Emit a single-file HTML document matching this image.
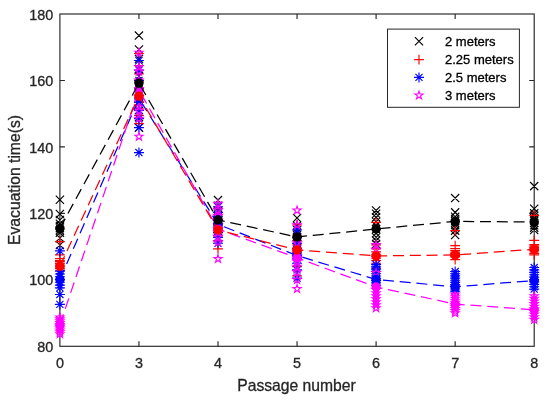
<!DOCTYPE html>
<html><head><meta charset="utf-8"><title>Evacuation time vs passage number</title>
<style>html,body{margin:0;padding:0;background:#fff}svg{display:block}</style></head>
<body>
<svg width="550" height="400" viewBox="0 0 550 400">

<rect width="550" height="400" fill="#fff"/>
<g stroke="#262626" stroke-width="1.15" fill="none">
<rect x="59.9" y="14.0" width="474.30000000000007" height="332.3"/>
<path d="M138.95 346.3v-5.0M138.95 14.0v5.0M218 346.3v-5.0M218 14.0v5.0M297.05 346.3v-5.0M297.05 14.0v5.0M376.1 346.3v-5.0M376.1 14.0v5.0M455.15 346.3v-5.0M455.15 14.0v5.0M59.9 279.84h5.0M534.2 279.84h-5.0M59.9 213.38h5.0M534.2 213.38h-5.0M59.9 146.92h5.0M534.2 146.92h-5.0M59.9 80.46h5.0M534.2 80.46h-5.0"/>
</g>
<g font-family="Liberation Sans, Arial, Helvetica, sans-serif" font-size="14.4" fill="#262626" stroke="#262626" stroke-width="0.3">
<g text-anchor="middle">
<text x="59.9" y="367.5">0</text>
<text x="138.95" y="367.5">3</text>
<text x="218" y="367.5">4</text>
<text x="297.05" y="367.5">5</text>
<text x="376.1" y="367.5">6</text>
<text x="455.15" y="367.5">7</text>
<text x="534.2" y="367.5">8</text>
</g><g text-anchor="end">
<text x="53.2" y="351.9">80</text>
<text x="53.2" y="285.44">100</text>
<text x="53.2" y="218.98">120</text>
<text x="53.2" y="152.52">140</text>
<text x="53.2" y="86.06">160</text>
<text x="53.2" y="19.6">180</text>
</g></g>
<g font-family="Liberation Sans, Arial, Helvetica, sans-serif" font-size="15.7" fill="#262626" stroke="#262626" stroke-width="0.3" text-anchor="middle">
<text x="296.5" y="391">Passage number</text>
<text transform="translate(20.3,180) rotate(-90)">Evacuation time(s)</text>
</g>
<path d="M55.8 195.66l8.2 8.2m-8.2 0l8.2 -8.2M55.8 209.94l8.2 8.2m-8.2 0l8.2 -8.2M55.8 215.93l8.2 8.2m-8.2 0l8.2 -8.2M55.8 233.87l8.2 8.2m-8.2 0l8.2 -8.2M55.8 240.85l8.2 8.2m-8.2 0l8.2 -8.2M55.8 219.58l8.2 8.2m-8.2 0l8.2 -8.2M55.8 221.82l8.2 8.2m-8.2 0l8.2 -8.2M55.8 224.07l8.2 8.2m-8.2 0l8.2 -8.2M55.8 226.31l8.2 8.2m-8.2 0l8.2 -8.2M55.8 228.55l8.2 8.2m-8.2 0l8.2 -8.2M134.85 31.5l8.2 8.2m-8.2 0l8.2 -8.2M134.85 45.46l8.2 8.2m-8.2 0l8.2 -8.2M134.85 54.76l8.2 8.2m-8.2 0l8.2 -8.2M134.85 64.73l8.2 8.2m-8.2 0l8.2 -8.2M134.85 72.04l8.2 8.2m-8.2 0l8.2 -8.2M134.85 79.68l8.2 8.2m-8.2 0l8.2 -8.2M134.85 87.99l8.2 8.2m-8.2 0l8.2 -8.2M134.85 99.62l8.2 8.2m-8.2 0l8.2 -8.2M134.85 112.91l8.2 8.2m-8.2 0l8.2 -8.2M134.85 123.55l8.2 8.2m-8.2 0l8.2 -8.2M213.9 195.99l8.2 8.2m-8.2 0l8.2 -8.2M213.9 201.64l8.2 8.2m-8.2 0l8.2 -8.2M213.9 206.62l8.2 8.2m-8.2 0l8.2 -8.2M213.9 210.61l8.2 8.2m-8.2 0l8.2 -8.2M213.9 213.93l8.2 8.2m-8.2 0l8.2 -8.2M213.9 216.59l8.2 8.2m-8.2 0l8.2 -8.2M213.9 219.25l8.2 8.2m-8.2 0l8.2 -8.2M213.9 222.57l8.2 8.2m-8.2 0l8.2 -8.2M213.9 227.56l8.2 8.2m-8.2 0l8.2 -8.2M213.9 234.2l8.2 8.2m-8.2 0l8.2 -8.2M292.95 213.93l8.2 8.2m-8.2 0l8.2 -8.2M292.95 221.58l8.2 8.2m-8.2 0l8.2 -8.2M292.95 225.9l8.2 8.2m-8.2 0l8.2 -8.2M292.95 228.55l8.2 8.2m-8.2 0l8.2 -8.2M292.95 230.88l8.2 8.2m-8.2 0l8.2 -8.2M292.95 233.21l8.2 8.2m-8.2 0l8.2 -8.2M292.95 235.86l8.2 8.2m-8.2 0l8.2 -8.2M292.95 239.19l8.2 8.2m-8.2 0l8.2 -8.2M292.95 243.17l8.2 8.2m-8.2 0l8.2 -8.2M292.95 249.16l8.2 8.2m-8.2 0l8.2 -8.2M372 206.29l8.2 8.2m-8.2 0l8.2 -8.2M372 209.61l8.2 8.2m-8.2 0l8.2 -8.2M372 213.27l8.2 8.2m-8.2 0l8.2 -8.2M372 217.59l8.2 8.2m-8.2 0l8.2 -8.2M372 221.58l8.2 8.2m-8.2 0l8.2 -8.2M372 225.23l8.2 8.2m-8.2 0l8.2 -8.2M372 229.22l8.2 8.2m-8.2 0l8.2 -8.2M372 233.21l8.2 8.2m-8.2 0l8.2 -8.2M372 236.53l8.2 8.2m-8.2 0l8.2 -8.2M372 239.85l8.2 8.2m-8.2 0l8.2 -8.2M451.05 193.99l8.2 8.2m-8.2 0l8.2 -8.2M451.05 208.28l8.2 8.2m-8.2 0l8.2 -8.2M451.05 212.6l8.2 8.2m-8.2 0l8.2 -8.2M451.05 214.93l8.2 8.2m-8.2 0l8.2 -8.2M451.05 216.92l8.2 8.2m-8.2 0l8.2 -8.2M451.05 218.92l8.2 8.2m-8.2 0l8.2 -8.2M451.05 220.91l8.2 8.2m-8.2 0l8.2 -8.2M451.05 223.24l8.2 8.2m-8.2 0l8.2 -8.2M451.05 226.56l8.2 8.2m-8.2 0l8.2 -8.2M451.05 230.88l8.2 8.2m-8.2 0l8.2 -8.2M530.1 182.03l8.2 8.2m-8.2 0l8.2 -8.2M530.1 204.63l8.2 8.2m-8.2 0l8.2 -8.2M530.1 209.28l8.2 8.2m-8.2 0l8.2 -8.2M530.1 211.65l8.2 8.2m-8.2 0l8.2 -8.2M530.1 214.03l8.2 8.2m-8.2 0l8.2 -8.2M530.1 216.4l8.2 8.2m-8.2 0l8.2 -8.2M530.1 218.77l8.2 8.2m-8.2 0l8.2 -8.2M530.1 221.15l8.2 8.2m-8.2 0l8.2 -8.2M530.1 223.52l8.2 8.2m-8.2 0l8.2 -8.2M530.1 225.9l8.2 8.2m-8.2 0l8.2 -8.2" fill="none" stroke="#000000" stroke-width="1.15" stroke-linejoin="miter"/>
<path d="M55 241.63h9.8M59.9 236.73v9.8M55 254.92h9.8M59.9 250.02v9.8M55 258.57h9.8M59.9 253.67v9.8M55 260.57h9.8M59.9 255.67v9.8M55 261.9h9.8M59.9 257v9.8M55 263.56h9.8M59.9 258.66v9.8M55 265.22h9.8M59.9 260.32v9.8M55 266.88h9.8M59.9 261.98v9.8M55 268.54h9.8M59.9 263.64v9.8M55 270.2h9.8M59.9 265.3v9.8M134.05 53.54h9.8M138.95 48.64v9.8M134.05 65.51h9.8M138.95 60.61v9.8M134.05 73.81h9.8M138.95 68.91v9.8M134.05 82.12h9.8M138.95 77.22v9.8M134.05 88.77h9.8M138.95 83.87v9.8M134.05 95.41h9.8M138.95 90.51v9.8M134.05 102.06h9.8M138.95 97.16v9.8M134.05 108.71h9.8M138.95 103.81v9.8M134.05 115.35h9.8M138.95 110.45v9.8M134.05 123.66h9.8M138.95 118.76v9.8M213.1 208.4h9.8M218 203.5v9.8M213.1 215.04h9.8M218 210.14v9.8M213.1 220.03h9.8M218 215.13v9.8M213.1 224.01h9.8M218 219.11v9.8M213.1 227.34h9.8M218 222.44v9.8M213.1 230h9.8M218 225.09v9.8M213.1 232.65h9.8M218 227.75v9.8M213.1 235.98h9.8M218 231.08v9.8M213.1 240.63h9.8M218 235.73v9.8M213.1 248.94h9.8M218 244.04v9.8M292.15 225.01h9.8M297.05 220.11v9.8M292.15 234.98h9.8M297.05 230.08v9.8M292.15 240.63h9.8M297.05 235.73v9.8M292.15 244.95h9.8M297.05 240.05v9.8M292.15 248.27h9.8M297.05 243.37v9.8M292.15 250.93h9.8M297.05 246.03v9.8M292.15 253.92h9.8M297.05 249.02v9.8M292.15 258.24h9.8M297.05 253.34v9.8M292.15 266.55h9.8M297.05 261.65v9.8M292.15 275.85h9.8M297.05 270.95v9.8M371.2 222.35h9.8M376.1 217.45v9.8M371.2 244.95h9.8M376.1 240.05v9.8M371.2 248.94h9.8M376.1 244.04v9.8M371.2 251.93h9.8M376.1 247.03v9.8M371.2 254.25h9.8M376.1 249.35v9.8M371.2 256.25h9.8M376.1 251.35v9.8M371.2 258.24h9.8M376.1 253.34v9.8M371.2 260.57h9.8M376.1 255.67v9.8M371.2 263.23h9.8M376.1 258.33v9.8M371.2 268.21h9.8M376.1 263.31v9.8M450.25 230.66h9.8M455.15 225.76v9.8M450.25 245.61h9.8M455.15 240.71v9.8M450.25 248.6h9.8M455.15 243.7v9.8M450.25 250.6h9.8M455.15 245.7v9.8M450.25 252.26h9.8M455.15 247.36v9.8M450.25 253.59h9.8M455.15 248.69v9.8M450.25 254.59h9.8M455.15 249.69v9.8M450.25 255.58h9.8M455.15 250.68v9.8M450.25 256.91h9.8M455.15 252.01v9.8M450.25 259.57h9.8M455.15 254.67v9.8M529.3 215.37h9.8M534.2 210.47v9.8M529.3 240.3h9.8M534.2 235.4v9.8M529.3 244.62h9.8M534.2 239.72v9.8M529.3 246.09h9.8M534.2 241.19v9.8M529.3 247.56h9.8M534.2 242.66v9.8M529.3 249.03h9.8M534.2 244.13v9.8M529.3 250.5h9.8M534.2 245.6v9.8M529.3 251.97h9.8M534.2 247.07v9.8M529.3 253.45h9.8M534.2 248.55v9.8M529.3 254.92h9.8M534.2 250.02v9.8" fill="none" stroke="#ff0000" stroke-width="1.15" stroke-linejoin="miter"/>
<path d="M54.9 250.93h10M59.9 245.93v10M56.36 247.39l7.07 7.07m-7.07 0l7.07 -7.07M54.9 294.46h10M59.9 289.46v10M56.36 290.93l7.07 7.07m-7.07 0l7.07 -7.07M54.9 304.43h10M59.9 299.43v10M56.36 300.89l7.07 7.07m-7.07 0l7.07 -7.07M54.9 271.2h10M59.9 266.2v10M56.36 267.66l7.07 7.07m-7.07 0l7.07 -7.07M54.9 273.97h10M59.9 268.97v10M56.36 270.43l7.07 7.07m-7.07 0l7.07 -7.07M54.9 276.74h10M59.9 271.74v10M56.36 273.2l7.07 7.07m-7.07 0l7.07 -7.07M54.9 279.51h10M59.9 274.51v10M56.36 275.97l7.07 7.07m-7.07 0l7.07 -7.07M54.9 282.28h10M59.9 277.28v10M56.36 278.74l7.07 7.07m-7.07 0l7.07 -7.07M54.9 285.05h10M59.9 280.05v10M56.36 281.51l7.07 7.07m-7.07 0l7.07 -7.07M54.9 287.82h10M59.9 282.82v10M56.36 284.28l7.07 7.07m-7.07 0l7.07 -7.07M133.95 60.52h10M138.95 55.52v10M135.41 56.99l7.07 7.07m-7.07 0l7.07 -7.07M133.95 70.16h10M138.95 65.16v10M135.41 66.62l7.07 7.07m-7.07 0l7.07 -7.07M133.95 80.46h10M138.95 75.46v10M135.41 76.92l7.07 7.07m-7.07 0l7.07 -7.07M133.95 88.77h10M138.95 83.77v10M135.41 85.23l7.07 7.07m-7.07 0l7.07 -7.07M133.95 95.41h10M138.95 90.41v10M135.41 91.88l7.07 7.07m-7.07 0l7.07 -7.07M133.95 102.06h10M138.95 97.06v10M135.41 98.52l7.07 7.07m-7.07 0l7.07 -7.07M133.95 110.37h10M138.95 105.37v10M135.41 106.83l7.07 7.07m-7.07 0l7.07 -7.07M133.95 118.67h10M138.95 113.67v10M135.41 115.14l7.07 7.07m-7.07 0l7.07 -7.07M133.95 127.65h10M138.95 122.65v10M135.41 124.11l7.07 7.07m-7.07 0l7.07 -7.07M133.95 152.57h10M138.95 147.57v10M135.41 149.03l7.07 7.07m-7.07 0l7.07 -7.07M213 206.73h10M218 201.73v10M214.46 203.2l7.07 7.07m-7.07 0l7.07 -7.07M213 212.38h10M218 207.38v10M214.46 208.85l7.07 7.07m-7.07 0l7.07 -7.07M213 216.7h10M218 211.7v10M214.46 213.17l7.07 7.07m-7.07 0l7.07 -7.07M213 220.36h10M218 215.36v10M214.46 216.82l7.07 7.07m-7.07 0l7.07 -7.07M213 223.35h10M218 218.35v10M214.46 219.81l7.07 7.07m-7.07 0l7.07 -7.07M213 226.01h10M218 221.01v10M214.46 222.47l7.07 7.07m-7.07 0l7.07 -7.07M213 229h10M218 224v10M214.46 225.46l7.07 7.07m-7.07 0l7.07 -7.07M213 232.65h10M218 227.65v10M214.46 229.12l7.07 7.07m-7.07 0l7.07 -7.07M213 237.31h10M218 232.31v10M214.46 233.77l7.07 7.07m-7.07 0l7.07 -7.07M213 243.29h10M218 238.29v10M214.46 239.75l7.07 7.07m-7.07 0l7.07 -7.07M292.05 230h10M297.05 225v10M293.51 226.46l7.07 7.07m-7.07 0l7.07 -7.07M292.05 237.31h10M297.05 232.31v10M293.51 233.77l7.07 7.07m-7.07 0l7.07 -7.07M292.05 243.29h10M297.05 238.29v10M293.51 239.75l7.07 7.07m-7.07 0l7.07 -7.07M292.05 248.27h10M297.05 243.27v10M293.51 244.74l7.07 7.07m-7.07 0l7.07 -7.07M292.05 252.26h10M297.05 247.26v10M293.51 248.72l7.07 7.07m-7.07 0l7.07 -7.07M292.05 255.58h10M297.05 250.58v10M293.51 252.05l7.07 7.07m-7.07 0l7.07 -7.07M292.05 258.91h10M297.05 253.91v10M293.51 255.37l7.07 7.07m-7.07 0l7.07 -7.07M292.05 263.23h10M297.05 258.23v10M293.51 259.69l7.07 7.07m-7.07 0l7.07 -7.07M292.05 269.87h10M297.05 264.87v10M293.51 266.34l7.07 7.07m-7.07 0l7.07 -7.07M292.05 278.18h10M297.05 273.18v10M293.51 274.64l7.07 7.07m-7.07 0l7.07 -7.07M371.1 264.55h10M376.1 259.55v10M372.56 261.02l7.07 7.07m-7.07 0l7.07 -7.07M371.1 266.84h10M376.1 261.84v10M372.56 263.31l7.07 7.07m-7.07 0l7.07 -7.07M371.1 269.13h10M376.1 264.13v10M372.56 265.6l7.07 7.07m-7.07 0l7.07 -7.07M371.1 271.42h10M376.1 266.42v10M372.56 267.89l7.07 7.07m-7.07 0l7.07 -7.07M371.1 273.71h10M376.1 268.71v10M372.56 270.18l7.07 7.07m-7.07 0l7.07 -7.07M371.1 276h10M376.1 271v10M372.56 272.46l7.07 7.07m-7.07 0l7.07 -7.07M371.1 278.29h10M376.1 273.29v10M372.56 274.75l7.07 7.07m-7.07 0l7.07 -7.07M371.1 280.58h10M376.1 275.58v10M372.56 277.04l7.07 7.07m-7.07 0l7.07 -7.07M371.1 282.87h10M376.1 277.87v10M372.56 279.33l7.07 7.07m-7.07 0l7.07 -7.07M371.1 285.16h10M376.1 280.16v10M372.56 281.62l7.07 7.07m-7.07 0l7.07 -7.07M450.15 271.53h10M455.15 266.53v10M451.61 268l7.07 7.07m-7.07 0l7.07 -7.07M450.15 273.71h10M455.15 268.71v10M451.61 270.18l7.07 7.07m-7.07 0l7.07 -7.07M450.15 275.89h10M455.15 270.89v10M451.61 272.35l7.07 7.07m-7.07 0l7.07 -7.07M450.15 278.07h10M455.15 273.07v10M451.61 274.53l7.07 7.07m-7.07 0l7.07 -7.07M450.15 280.25h10M455.15 275.25v10M451.61 276.71l7.07 7.07m-7.07 0l7.07 -7.07M450.15 282.42h10M455.15 277.42v10M451.61 278.89l7.07 7.07m-7.07 0l7.07 -7.07M450.15 284.6h10M455.15 279.6v10M451.61 281.07l7.07 7.07m-7.07 0l7.07 -7.07M450.15 286.78h10M455.15 281.78v10M451.61 283.25l7.07 7.07m-7.07 0l7.07 -7.07M450.15 288.96h10M455.15 283.96v10M451.61 285.42l7.07 7.07m-7.07 0l7.07 -7.07M450.15 291.14h10M455.15 286.14v10M451.61 287.6l7.07 7.07m-7.07 0l7.07 -7.07M529.2 267.54h10M534.2 262.54v10M530.66 264.01l7.07 7.07m-7.07 0l7.07 -7.07M529.2 269.94h10M534.2 264.94v10M530.66 266.41l7.07 7.07m-7.07 0l7.07 -7.07M529.2 272.34h10M534.2 267.34v10M530.66 268.81l7.07 7.07m-7.07 0l7.07 -7.07M529.2 274.74h10M534.2 269.74v10M530.66 271.21l7.07 7.07m-7.07 0l7.07 -7.07M529.2 277.14h10M534.2 272.14v10M530.66 273.61l7.07 7.07m-7.07 0l7.07 -7.07M529.2 279.54h10M534.2 274.54v10M530.66 276.01l7.07 7.07m-7.07 0l7.07 -7.07M529.2 281.94h10M534.2 276.94v10M530.66 278.41l7.07 7.07m-7.07 0l7.07 -7.07M529.2 284.34h10M534.2 279.34v10M530.66 280.81l7.07 7.07m-7.07 0l7.07 -7.07M529.2 286.74h10M534.2 281.74v10M530.66 283.21l7.07 7.07m-7.07 0l7.07 -7.07M529.2 289.14h10M534.2 284.14v10M530.66 285.61l7.07 7.07m-7.07 0l7.07 -7.07" fill="none" stroke="#0000ff" stroke-width="1.15" stroke-linejoin="miter"/>
<path d="M59.9 313.09L60.87 316.06L63.99 316.06L61.46 317.9L62.43 320.87L59.9 319.03L57.37 320.87L58.34 317.9L55.81 316.06L58.93 316.06ZM59.9 314.94L60.87 317.91L63.99 317.91L61.46 319.74L62.43 322.71L59.9 320.88L57.37 322.71L58.34 319.74L55.81 317.91L58.93 317.91ZM59.9 316.78L60.87 319.75L63.99 319.75L61.46 321.59L62.43 324.56L59.9 322.72L57.37 324.56L58.34 321.59L55.81 319.75L58.93 319.75ZM59.9 318.63L60.87 321.6L63.99 321.6L61.46 323.44L62.43 326.41L59.9 324.57L57.37 326.41L58.34 323.44L55.81 321.6L58.93 321.6ZM59.9 320.47L60.87 323.45L63.99 323.45L61.46 325.28L62.43 328.25L59.9 326.42L57.37 328.25L58.34 325.28L55.81 323.45L58.93 323.45ZM59.9 322.32L60.87 325.29L63.99 325.29L61.46 327.13L62.43 330.1L59.9 328.26L57.37 330.1L58.34 327.13L55.81 325.29L58.93 325.29ZM59.9 324.17L60.87 327.14L63.99 327.14L61.46 328.97L62.43 331.95L59.9 330.11L57.37 331.95L58.34 328.97L55.81 327.14L58.93 327.14ZM59.9 326.01L60.87 328.98L63.99 328.98L61.46 330.82L62.43 333.79L59.9 331.96L57.37 333.79L58.34 330.82L55.81 328.98L58.93 328.98ZM59.9 327.86L60.87 330.83L63.99 330.83L61.46 332.67L62.43 335.64L59.9 333.8L57.37 335.64L58.34 332.67L55.81 330.83L58.93 330.83ZM59.9 329.7L60.87 332.68L63.99 332.68L61.46 334.51L62.43 337.48L59.9 335.65L57.37 337.48L58.34 334.51L55.81 332.68L58.93 332.68ZM138.95 48.25L139.92 51.22L143.04 51.22L140.51 53.05L141.48 56.03L138.95 54.19L136.42 56.03L137.39 53.05L134.86 51.22L137.98 51.22ZM138.95 62.87L139.92 65.84L143.04 65.84L140.51 67.68L141.48 70.65L138.95 68.81L136.42 70.65L137.39 67.68L134.86 65.84L137.98 65.84ZM138.95 67.19L139.92 70.16L143.04 70.16L140.51 72L141.48 74.97L138.95 73.13L136.42 74.97L137.39 72L134.86 70.16L137.98 70.16ZM138.95 76.16L139.92 79.13L143.04 79.13L140.51 80.97L141.48 83.94L138.95 82.1L136.42 83.94L137.39 80.97L134.86 79.13L137.98 79.13ZM138.95 84.47L139.92 87.44L143.04 87.44L140.51 89.28L141.48 92.25L138.95 90.41L136.42 92.25L137.39 89.28L134.86 87.44L137.98 87.44ZM138.95 92.78L139.92 95.75L143.04 95.75L140.51 97.58L141.48 100.55L138.95 98.72L136.42 100.55L137.39 97.58L134.86 95.75L137.98 95.75ZM138.95 102.41L139.92 105.38L143.04 105.38L140.51 107.22L141.48 110.19L138.95 108.35L136.42 110.19L137.39 107.22L134.86 105.38L137.98 105.38ZM138.95 106.73L139.92 109.7L143.04 109.7L140.51 111.54L141.48 114.51L138.95 112.67L136.42 114.51L137.39 111.54L134.86 109.7L137.98 109.7ZM138.95 114.37L139.92 117.35L143.04 117.35L140.51 119.18L141.48 122.15L138.95 120.32L136.42 122.15L137.39 119.18L134.86 117.35L137.98 117.35ZM138.95 132.32L139.92 135.29L143.04 135.29L140.51 137.13L141.48 140.1L138.95 138.26L136.42 140.1L137.39 137.13L134.86 135.29L137.98 135.29ZM218 199.44L218.97 202.41L222.09 202.41L219.56 204.25L220.53 207.22L218 205.39L215.47 207.22L216.44 204.25L213.91 202.41L217.03 202.41ZM218 205.76L218.97 208.73L222.09 208.73L219.56 210.56L220.53 213.54L218 211.7L215.47 213.54L216.44 210.56L213.91 208.73L217.03 208.73ZM218 211.41L218.97 214.38L222.09 214.38L219.56 216.21L220.53 219.18L218 217.35L215.47 219.18L216.44 216.21L213.91 214.38L217.03 214.38ZM218 216.39L218.97 219.36L222.09 219.36L219.56 221.2L220.53 224.17L218 222.33L215.47 224.17L216.44 221.2L213.91 219.36L217.03 219.36ZM218 220.71L218.97 223.68L222.09 223.68L219.56 225.52L220.53 228.49L218 226.65L215.47 228.49L216.44 225.52L213.91 223.68L217.03 223.68ZM218 224.7L218.97 227.67L222.09 227.67L219.56 229.51L220.53 232.48L218 230.64L215.47 232.48L216.44 229.51L213.91 227.67L217.03 227.67ZM218 228.35L218.97 231.32L222.09 231.32L219.56 233.16L220.53 236.13L218 234.3L215.47 236.13L216.44 233.16L213.91 231.32L217.03 231.32ZM218 232.34L218.97 235.31L222.09 235.31L219.56 237.15L220.53 240.12L218 238.28L215.47 240.12L216.44 237.15L213.91 235.31L217.03 235.31ZM218 237.99L218.97 240.96L222.09 240.96L219.56 242.8L220.53 245.77L218 243.93L215.47 245.77L216.44 242.8L213.91 240.96L217.03 240.96ZM218 254.61L218.97 257.58L222.09 257.58L219.56 259.41L220.53 262.38L218 260.55L215.47 262.38L216.44 259.41L213.91 257.58L217.03 257.58ZM297.05 206.09L298.02 209.06L301.14 209.06L298.61 210.9L299.58 213.87L297.05 212.03L294.52 213.87L295.49 210.9L292.96 209.06L296.08 209.06ZM297.05 220.71L298.02 223.68L301.14 223.68L298.61 225.52L299.58 228.49L297.05 226.65L294.52 228.49L295.49 225.52L292.96 223.68L296.08 223.68ZM297.05 238.99L298.02 241.96L301.14 241.96L298.61 243.79L299.58 246.77L297.05 244.93L294.52 246.77L295.49 243.79L292.96 241.96L296.08 241.96ZM297.05 247.29L298.02 250.27L301.14 250.27L298.61 252.1L299.58 255.07L297.05 253.24L294.52 255.07L295.49 252.1L292.96 250.27L296.08 250.27ZM297.05 252.28L298.02 255.25L301.14 255.25L298.61 257.09L299.58 260.06L297.05 258.22L294.52 260.06L295.49 257.09L292.96 255.25L296.08 255.25ZM297.05 257.26L298.02 260.23L301.14 260.23L298.61 262.07L299.58 265.04L297.05 263.21L294.52 265.04L295.49 262.07L292.96 260.23L296.08 260.23ZM297.05 262.25L298.02 265.22L301.14 265.22L298.61 267.06L299.58 270.03L297.05 268.19L294.52 270.03L295.49 267.06L292.96 265.22L296.08 265.22ZM297.05 267.9L298.02 270.87L301.14 270.87L298.61 272.7L299.58 275.68L297.05 273.84L294.52 275.68L295.49 272.7L292.96 270.87L296.08 270.87ZM297.05 275.54L298.02 278.51L301.14 278.51L298.61 280.35L299.58 283.32L297.05 281.48L294.52 283.32L295.49 280.35L292.96 278.51L296.08 278.51ZM297.05 284.51L298.02 287.48L301.14 287.48L298.61 289.32L299.58 292.29L297.05 290.45L294.52 292.29L295.49 289.32L292.96 287.48L296.08 287.48ZM376.1 240.65L377.07 243.62L380.19 243.62L377.66 245.46L378.63 248.43L376.1 246.59L373.57 248.43L374.54 245.46L372.01 243.62L375.13 243.62ZM376.1 245.3L377.07 248.27L380.19 248.27L377.66 250.11L378.63 253.08L376.1 251.24L373.57 253.08L374.54 250.11L372.01 248.27L375.13 248.27ZM376.1 268.56L377.07 271.53L380.19 271.53L377.66 273.37L378.63 276.34L376.1 274.5L373.57 276.34L374.54 273.37L372.01 271.53L375.13 271.53ZM376.1 285.51L377.07 288.48L380.19 288.48L377.66 290.32L378.63 293.29L376.1 291.45L373.57 293.29L374.54 290.32L372.01 288.48L375.13 288.48ZM376.1 288.83L377.07 291.8L380.19 291.8L377.66 293.64L378.63 296.61L376.1 294.77L373.57 296.61L374.54 293.64L372.01 291.8L375.13 291.8ZM376.1 291.82L377.07 294.79L380.19 294.79L377.66 296.63L378.63 299.6L376.1 297.77L373.57 299.6L374.54 296.63L372.01 294.79L375.13 294.79ZM376.1 294.81L377.07 297.78L380.19 297.78L377.66 299.62L378.63 302.59L376.1 300.76L373.57 302.59L374.54 299.62L372.01 297.78L375.13 297.78ZM376.1 297.8L377.07 300.78L380.19 300.78L377.66 302.61L378.63 305.58L376.1 303.75L373.57 305.58L374.54 302.61L372.01 300.78L375.13 300.78ZM376.1 300.79L377.07 303.77L380.19 303.77L377.66 305.6L378.63 308.57L376.1 306.74L373.57 308.57L374.54 305.6L372.01 303.77L375.13 303.77ZM376.1 303.79L377.07 306.76L380.19 306.76L377.66 308.59L378.63 311.56L376.1 309.73L373.57 311.56L374.54 308.59L372.01 306.76L375.13 306.76ZM455.15 290.16L456.12 293.13L459.24 293.13L456.71 294.97L457.68 297.94L455.15 296.1L452.62 297.94L453.59 294.97L451.06 293.13L454.18 293.13ZM455.15 292.23L456.12 295.2L459.24 295.2L456.71 297.04L457.68 300.01L455.15 298.17L452.62 300.01L453.59 297.04L451.06 295.2L454.18 295.2ZM455.15 294.3L456.12 297.27L459.24 297.27L456.71 299.1L457.68 302.08L455.15 300.24L452.62 302.08L453.59 299.1L451.06 297.27L454.18 297.27ZM455.15 296.36L456.12 299.34L459.24 299.34L456.71 301.17L457.68 304.14L455.15 302.31L452.62 304.14L453.59 301.17L451.06 299.34L454.18 299.34ZM455.15 298.43L456.12 301.4L459.24 301.4L456.71 303.24L457.68 306.21L455.15 304.37L452.62 306.21L453.59 303.24L451.06 301.4L454.18 301.4ZM455.15 300.5L456.12 303.47L459.24 303.47L456.71 305.31L457.68 308.28L455.15 306.44L452.62 308.28L453.59 305.31L451.06 303.47L454.18 303.47ZM455.15 302.57L456.12 305.54L459.24 305.54L456.71 307.37L457.68 310.35L455.15 308.51L452.62 310.35L453.59 307.37L451.06 305.54L454.18 305.54ZM455.15 304.63L456.12 307.61L459.24 307.61L456.71 309.44L457.68 312.41L455.15 310.58L452.62 312.41L453.59 309.44L451.06 307.61L454.18 307.61ZM455.15 306.7L456.12 309.67L459.24 309.67L456.71 311.51L457.68 314.48L455.15 312.64L452.62 314.48L453.59 311.51L451.06 309.67L454.18 309.67ZM455.15 308.77L456.12 311.74L459.24 311.74L456.71 313.58L457.68 316.55L455.15 314.71L452.62 316.55L453.59 313.58L451.06 311.74L454.18 311.74ZM534.2 291.82L535.17 294.79L538.29 294.79L535.76 296.63L536.73 299.6L534.2 297.77L531.67 299.6L532.64 296.63L530.11 294.79L533.23 294.79ZM534.2 294.44L535.17 297.42L538.29 297.42L535.76 299.25L536.73 302.22L534.2 300.39L531.67 302.22L532.64 299.25L530.11 297.42L533.23 297.42ZM534.2 297.07L535.17 300.04L538.29 300.04L535.76 301.87L536.73 304.84L534.2 303.01L531.67 304.84L532.64 301.87L530.11 300.04L533.23 300.04ZM534.2 299.69L535.17 302.66L538.29 302.66L535.76 304.49L536.73 307.47L534.2 305.63L531.67 307.47L532.64 304.49L530.11 302.66L533.23 302.66ZM534.2 302.31L535.17 305.28L538.29 305.28L535.76 307.12L536.73 310.09L534.2 308.25L531.67 310.09L532.64 307.12L530.11 305.28L533.23 305.28ZM534.2 304.93L535.17 307.9L538.29 307.9L535.76 309.74L536.73 312.71L534.2 310.87L531.67 312.71L532.64 309.74L530.11 307.9L533.23 307.9ZM534.2 307.55L535.17 310.52L538.29 310.52L535.76 312.36L536.73 315.33L534.2 313.49L531.67 315.33L532.64 312.36L530.11 310.52L533.23 310.52ZM534.2 310.17L535.17 313.14L538.29 313.14L535.76 314.98L536.73 317.95L534.2 316.12L531.67 317.95L532.64 314.98L530.11 313.14L533.23 313.14ZM534.2 312.79L535.17 315.77L538.29 315.77L535.76 317.6L536.73 320.57L534.2 318.74L531.67 320.57L532.64 317.6L530.11 315.77L533.23 315.77ZM534.2 315.42L535.17 318.39L538.29 318.39L535.76 320.22L536.73 323.19L534.2 321.36L531.67 323.19L532.64 320.22L530.11 318.39L533.23 318.39Z" fill="none" stroke="#ff00ff" stroke-width="1.1" stroke-linejoin="miter"/>
<polyline points="59.9,279.51 138.95,98.4 218,224.35 297.05,255.58 376.1,279.51 455.15,286.82 534.2,280.5" fill="none" stroke="#0000ff" stroke-width="1.25" stroke-dasharray="11 5.8"/>
<g fill="#0000ff">
<circle cx="59.9" cy="279.51" r="4.7"/>
<circle cx="138.95" cy="98.4" r="4.7"/>
<circle cx="218" cy="224.35" r="4.7"/>
<circle cx="297.05" cy="255.58" r="4.7"/>
<circle cx="376.1" cy="279.51" r="4.7"/>
<circle cx="455.15" cy="286.82" r="4.7"/>
<circle cx="534.2" cy="280.5" r="4.7"/>
</g>
<polyline points="59.9,324.7 138.95,90.1 218,229 297.05,257.91 376.1,286.98 455.15,304.1 534.2,309.75" fill="none" stroke="#ff00ff" stroke-width="1.25" stroke-dasharray="11 5.8"/>
<g fill="#ff00ff">
<circle cx="59.9" cy="324.7" r="4.7"/>
<circle cx="138.95" cy="90.1" r="4.7"/>
<circle cx="218" cy="229" r="4.7"/>
<circle cx="297.05" cy="257.91" r="4.7"/>
<circle cx="376.1" cy="286.98" r="4.7"/>
<circle cx="455.15" cy="304.1" r="4.7"/>
<circle cx="534.2" cy="309.75" r="4.7"/>
</g>
<polyline points="59.9,266.22 138.95,96.08 218,230 297.05,249.93 376.1,255.91 455.15,254.92 534.2,249.27" fill="none" stroke="#ff0000" stroke-width="1.25" stroke-dasharray="11 5.8"/>
<g fill="#ff0000">
<circle cx="59.9" cy="266.22" r="4.7"/>
<circle cx="138.95" cy="96.08" r="4.7"/>
<circle cx="218" cy="230" r="4.7"/>
<circle cx="297.05" cy="249.93" r="4.7"/>
<circle cx="376.1" cy="255.91" r="4.7"/>
<circle cx="455.15" cy="254.92" r="4.7"/>
<circle cx="534.2" cy="249.27" r="4.7"/>
</g>
<polyline points="59.9,228.33 138.95,83.12 218,220.03 297.05,236.97 376.1,229 455.15,221.36 534.2,222.02" fill="none" stroke="#000000" stroke-width="1.25" stroke-dasharray="11 5.8"/>
<g fill="#000000">
<circle cx="59.9" cy="228.33" r="4.7"/>
<circle cx="138.95" cy="83.12" r="4.7"/>
<circle cx="218" cy="220.03" r="4.7"/>
<circle cx="297.05" cy="236.97" r="4.7"/>
<circle cx="376.1" cy="229" r="4.7"/>
<circle cx="455.15" cy="221.36" r="4.7"/>
<circle cx="534.2" cy="222.02" r="4.7"/>
</g>
<rect x="387.5" y="29.1" width="131.9" height="78.2" fill="#fff" stroke="#262626" stroke-width="1"/>
<g font-family="Liberation Sans, Arial, Helvetica, sans-serif" font-size="13" fill="#000" stroke-width="0.3">
<path d="M414.9 37.1l8.2 8.2m-8.2 0l8.2 -8.2" fill="none" stroke="#000000" stroke-width="1.15" stroke-linejoin="miter"/>
<text x="445" y="45.9" stroke="#000">2 meters</text>
<path d="M414.1 59.6h9.8M419 54.7v9.8" fill="none" stroke="#ff0000" stroke-width="1.15" stroke-linejoin="miter"/>
<text x="445" y="64.3" stroke="#000">2.25 meters</text>
<path d="M414 77.4h10M419 72.4v10M415.46 73.86l7.07 7.07m-7.07 0l7.07 -7.07" fill="none" stroke="#0000ff" stroke-width="1.15" stroke-linejoin="miter"/>
<text x="445" y="82.1" stroke="#000">2.5 meters</text>
<path d="M419 91.1L419.97 94.07L423.09 94.07L420.56 95.91L421.53 98.88L419 97.04L416.47 98.88L417.44 95.91L414.91 94.07L418.03 94.07Z" fill="none" stroke="#ff00ff" stroke-width="1.1" stroke-linejoin="miter"/>
<text x="445" y="100.1" stroke="#000">3 meters</text>
</g>
</svg>
</body></html>
